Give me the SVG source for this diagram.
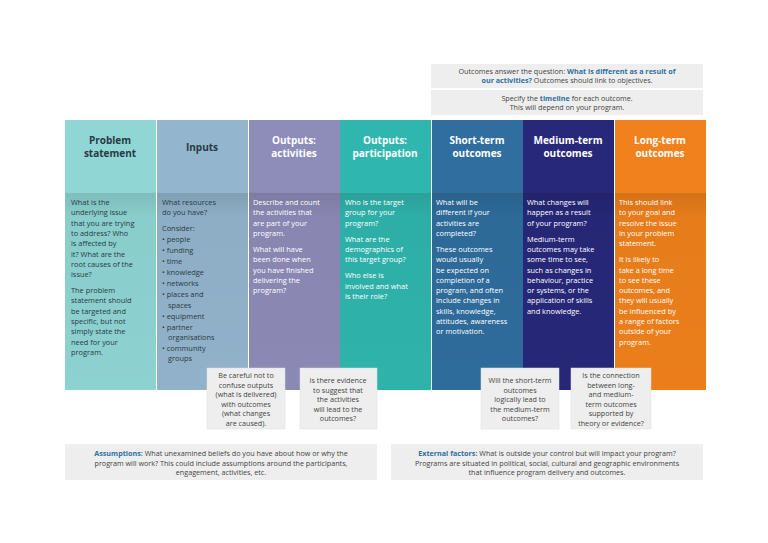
<svg xmlns="http://www.w3.org/2000/svg" width="768" height="543" viewBox="0 0 768 543">
<defs>
<linearGradient id="sh" x1="0" y1="0" x2="0" y2="1"><stop offset="0" stop-color="#000" stop-opacity="0.12"/><stop offset="0.12" stop-color="#000" stop-opacity="0.04"/><stop offset="1" stop-color="#000" stop-opacity="0.02"/></linearGradient>
</defs>
<style>
text{font-family:"Open Sans","DejaVu Sans",sans-serif;font-size:7.4px}
.h{font-size:10px;font-weight:bold;text-anchor:middle}
.d{fill:#2a3a44}.w{fill:#fff}
.c{text-anchor:middle;fill:#444;font-size:7.2px}
.bx{fill:#eeeeee}
.bl{fill:#2f6e9e;font-weight:bold}
</style>
<rect width="768" height="543" fill="#fff"/>
<g id="top">
<rect class="bx" x="431" y="64" width="272" height="24"/>
<text class="c" x="567" y="74">Outcomes answer the question: <tspan class="bl">What is different as a result of</tspan></text>
<text class="c" x="567" y="83"><tspan class="bl">our activities?</tspan> Outcomes should link to objectives.</text>
<rect class="bx" x="431" y="90" width="272" height="25"/>
<text class="c" x="567" y="101">Specify the <tspan class="bl">timeline</tspan> for each outcome.</text>
<text class="c" x="567" y="110">This will depend on your program.</text>
</g>
<g id="col-problem">
<rect x="65" y="120" width="91" height="270" fill="#8fd6d4"/>
<rect x="65" y="193" width="91" height="197" fill="url(#sh)"/>
<text class="h d" x="110" y="144">Problem</text><text class="h d" x="110" y="157">statement</text>
<text class="d" x="71" y="205">What is the<tspan x="71" dy="10.3">underlying issue</tspan><tspan x="71" dy="10.3">that you are trying</tspan><tspan x="71" dy="10.3">to address? Who</tspan><tspan x="71" dy="10.3">is affected by</tspan><tspan x="71" dy="10.3">it? What are the</tspan><tspan x="71" dy="10.3">root causes of the</tspan><tspan x="71" dy="10.3">issue?</tspan><tspan x="71" dy="16">The problem</tspan><tspan x="71" dy="10.3">statement should</tspan><tspan x="71" dy="10.3">be targeted and</tspan><tspan x="71" dy="10.3">specific, but not</tspan><tspan x="71" dy="10.3">simply state the</tspan><tspan x="71" dy="10.3">need for your</tspan><tspan x="71" dy="10.3">program.</tspan></text>
</g>
<g id="col-inputs">
<rect x="157" y="120" width="91" height="270" fill="#93b5cd"/>
<rect x="157" y="193" width="91" height="197" fill="url(#sh)"/>
<text class="h d" x="202" y="151">Inputs</text>
<text class="d" x="162" y="205">What resources<tspan x="162" dy="10.3">do you have?</tspan><tspan x="162" dy="16">Consider:</tspan><tspan x="162" dy="11">• people</tspan><tspan x="162" dy="11">• funding</tspan><tspan x="162" dy="11">• time</tspan><tspan x="162" dy="11">• knowledge</tspan><tspan x="162" dy="11">• networks</tspan><tspan x="162" dy="11">• places and</tspan><tspan x="168" dy="10.3">spaces</tspan><tspan x="162" dy="11">• equipment</tspan><tspan x="162" dy="11">• partner</tspan><tspan x="168" dy="10.3">organisations</tspan><tspan x="162" dy="11">• community</tspan><tspan x="168" dy="10.3">groups</tspan></text>
</g>
<g id="col-activities">
<rect x="249" y="120" width="91" height="270" fill="#8e8cb8"/>
<rect x="249" y="193" width="91" height="197" fill="url(#sh)"/>
<text class="h w" x="294" y="144">Outputs:</text><text class="h w" x="294" y="157">activities</text>
<text class="w" x="253" y="205">Describe and count<tspan x="253" dy="10.3">the activities that</tspan><tspan x="253" dy="10.3">are part of your</tspan><tspan x="253" dy="10.3">program.</tspan><tspan x="253" dy="16">What will have</tspan><tspan x="253" dy="10.3">been done when</tspan><tspan x="253" dy="10.3">you have finished</tspan><tspan x="253" dy="10.3">delivering the</tspan><tspan x="253" dy="10.3">program?</tspan></text>
</g>
<g id="col-participation">
<rect x="340" y="120" width="91" height="270" fill="#2fb6ae"/>
<rect x="340" y="193" width="91" height="197" fill="url(#sh)"/>
<text class="h w" x="385" y="144">Outputs:</text><text class="h w" x="385" y="157">participation</text>
<text class="w" x="345" y="205">Who is the target<tspan x="345" dy="10.3">group for your</tspan><tspan x="345" dy="10.3">program?</tspan><tspan x="345" dy="16">What are the</tspan><tspan x="345" dy="10.3">demographics of</tspan><tspan x="345" dy="10.3">this target group?</tspan><tspan x="345" dy="16">Who else is</tspan><tspan x="345" dy="10.3">involved and what</tspan><tspan x="345" dy="10.3">is their role?</tspan></text>
</g>
<g id="col-short">
<rect x="432" y="120" width="91" height="270" fill="#2f6e9e"/>
<rect x="432" y="193" width="91" height="197" fill="url(#sh)"/>
<text class="h w" x="477" y="144">Short-term</text><text class="h w" x="477" y="157">outcomes</text>
<text class="w" x="436" y="205">What will be<tspan x="436" dy="10.3">different if your</tspan><tspan x="436" dy="10.3">activities are</tspan><tspan x="436" dy="10.3">completed?</tspan><tspan x="436" dy="16">These outcomes</tspan><tspan x="436" dy="10.3">would usually</tspan><tspan x="436" dy="10.3">be expected on</tspan><tspan x="436" dy="10.3">completion of a</tspan><tspan x="436" dy="10.3">program, and often</tspan><tspan x="436" dy="10.3">include changes in</tspan><tspan x="436" dy="10.3">skills, knowledge,</tspan><tspan x="436" dy="10.3">attitudes, awareness</tspan><tspan x="436" dy="10.3">or motivation.</tspan></text>
</g>
<g id="col-medium">
<rect x="523" y="120" width="91" height="270" fill="#27287a"/>
<rect x="523" y="193" width="91" height="197" fill="url(#sh)"/>
<text class="h w" x="568" y="144">Medium-term</text><text class="h w" x="568" y="157">outcomes</text>
<text class="w" x="527" y="205">What changes will<tspan x="527" dy="10.3">happen as a result</tspan><tspan x="527" dy="10.3">of your program?</tspan><tspan x="527" dy="16">Medium-term</tspan><tspan x="527" dy="10.3">outcomes may take</tspan><tspan x="527" dy="10.3">some time to see,</tspan><tspan x="527" dy="10.3">such as changes in</tspan><tspan x="527" dy="10.3">behaviour, practice</tspan><tspan x="527" dy="10.3">or systems, or the</tspan><tspan x="527" dy="10.3">application of skills</tspan><tspan x="527" dy="10.3">and knowledge.</tspan></text>
</g>
<g id="col-long">
<rect x="615" y="120" width="91" height="270" fill="#f0811c"/>
<rect x="615" y="193" width="91" height="197" fill="url(#sh)"/>
<text class="h w" x="660" y="144">Long-term</text><text class="h w" x="660" y="157">outcomes</text>
<text class="w" x="619" y="205">This should link<tspan x="619" dy="10.3">to your goal and</tspan><tspan x="619" dy="10.3">resolve the issue</tspan><tspan x="619" dy="10.3">in your problem</tspan><tspan x="619" dy="10.3">statement.</tspan><tspan x="619" dy="16">It is likely to</tspan><tspan x="619" dy="10.3">take a long time</tspan><tspan x="619" dy="10.3">to see these</tspan><tspan x="619" dy="10.3">outcomes, and</tspan><tspan x="619" dy="10.3">they will usually</tspan><tspan x="619" dy="10.3">be influenced by</tspan><tspan x="619" dy="10.3">a range of factors</tspan><tspan x="619" dy="10.3">outside of your</tspan><tspan x="619" dy="10.3">program.</tspan></text>
</g>
<g id="callouts">
<rect class="bx" x="207" y="368" width="78" height="61" stroke="#ddd" stroke-width="0.5"/>
<text class="c" x="246" y="378">Be careful not to<tspan x="246" dy="9.6">confuse outputs</tspan><tspan x="246" dy="9.6">(what is delivered)</tspan><tspan x="246" dy="9.6">with outcomes</tspan><tspan x="246" dy="9.6">(what changes</tspan><tspan x="246" dy="9.6">are caused).</tspan></text>
<rect class="bx" x="300" y="368" width="77" height="61" stroke="#ddd" stroke-width="0.5"/>
<text class="c" x="338" y="383">Is there evidence<tspan x="338" dy="9.6">to suggest that</tspan><tspan x="338" dy="9.6">the activities</tspan><tspan x="338" dy="9.6">will lead to the</tspan><tspan x="338" dy="9.6">outcomes?</tspan></text>
<rect class="bx" x="481" y="368" width="78" height="61" stroke="#ddd" stroke-width="0.5"/>
<text class="c" x="520" y="383">Will the short-term<tspan x="520" dy="9.6">outcomes</tspan><tspan x="520" dy="9.6">logically lead to</tspan><tspan x="520" dy="9.6">the medium-term</tspan><tspan x="520" dy="9.6">outcomes?</tspan></text>
<rect class="bx" x="571" y="368" width="80" height="61" stroke="#ddd" stroke-width="0.5"/>
<text class="c" x="611" y="378">Is the connection<tspan x="611" dy="9.6">between long-</tspan><tspan x="611" dy="9.6">and medium-</tspan><tspan x="611" dy="9.6">term outcomes</tspan><tspan x="611" dy="9.6">supported by</tspan><tspan x="611" dy="9.6">theory or evidence?</tspan></text>
</g>
<g id="bottom">
<rect class="bx" x="65" y="444" width="312" height="36"/>
<text class="c" x="221" y="456"><tspan class="bl">Assumptions:</tspan> What unexamined beliefs do you have about how or why the<tspan x="221" dy="9.5">program will work? This could include assumptions around the participants,</tspan><tspan x="221" dy="9.5">engagement, activities, etc.</tspan></text>
<rect class="bx" x="391" y="444" width="312" height="36"/>
<text class="c" x="547" y="456"><tspan class="bl">External factors:</tspan> What is outside your control but will impact your program?<tspan x="547" dy="9.5">Programs are situated in political, social, cultural and geographic environments</tspan><tspan x="547" dy="9.5">that influence program delivery and outcomes.</tspan></text>
</g>
<g id="connectors"></g>
</svg>
